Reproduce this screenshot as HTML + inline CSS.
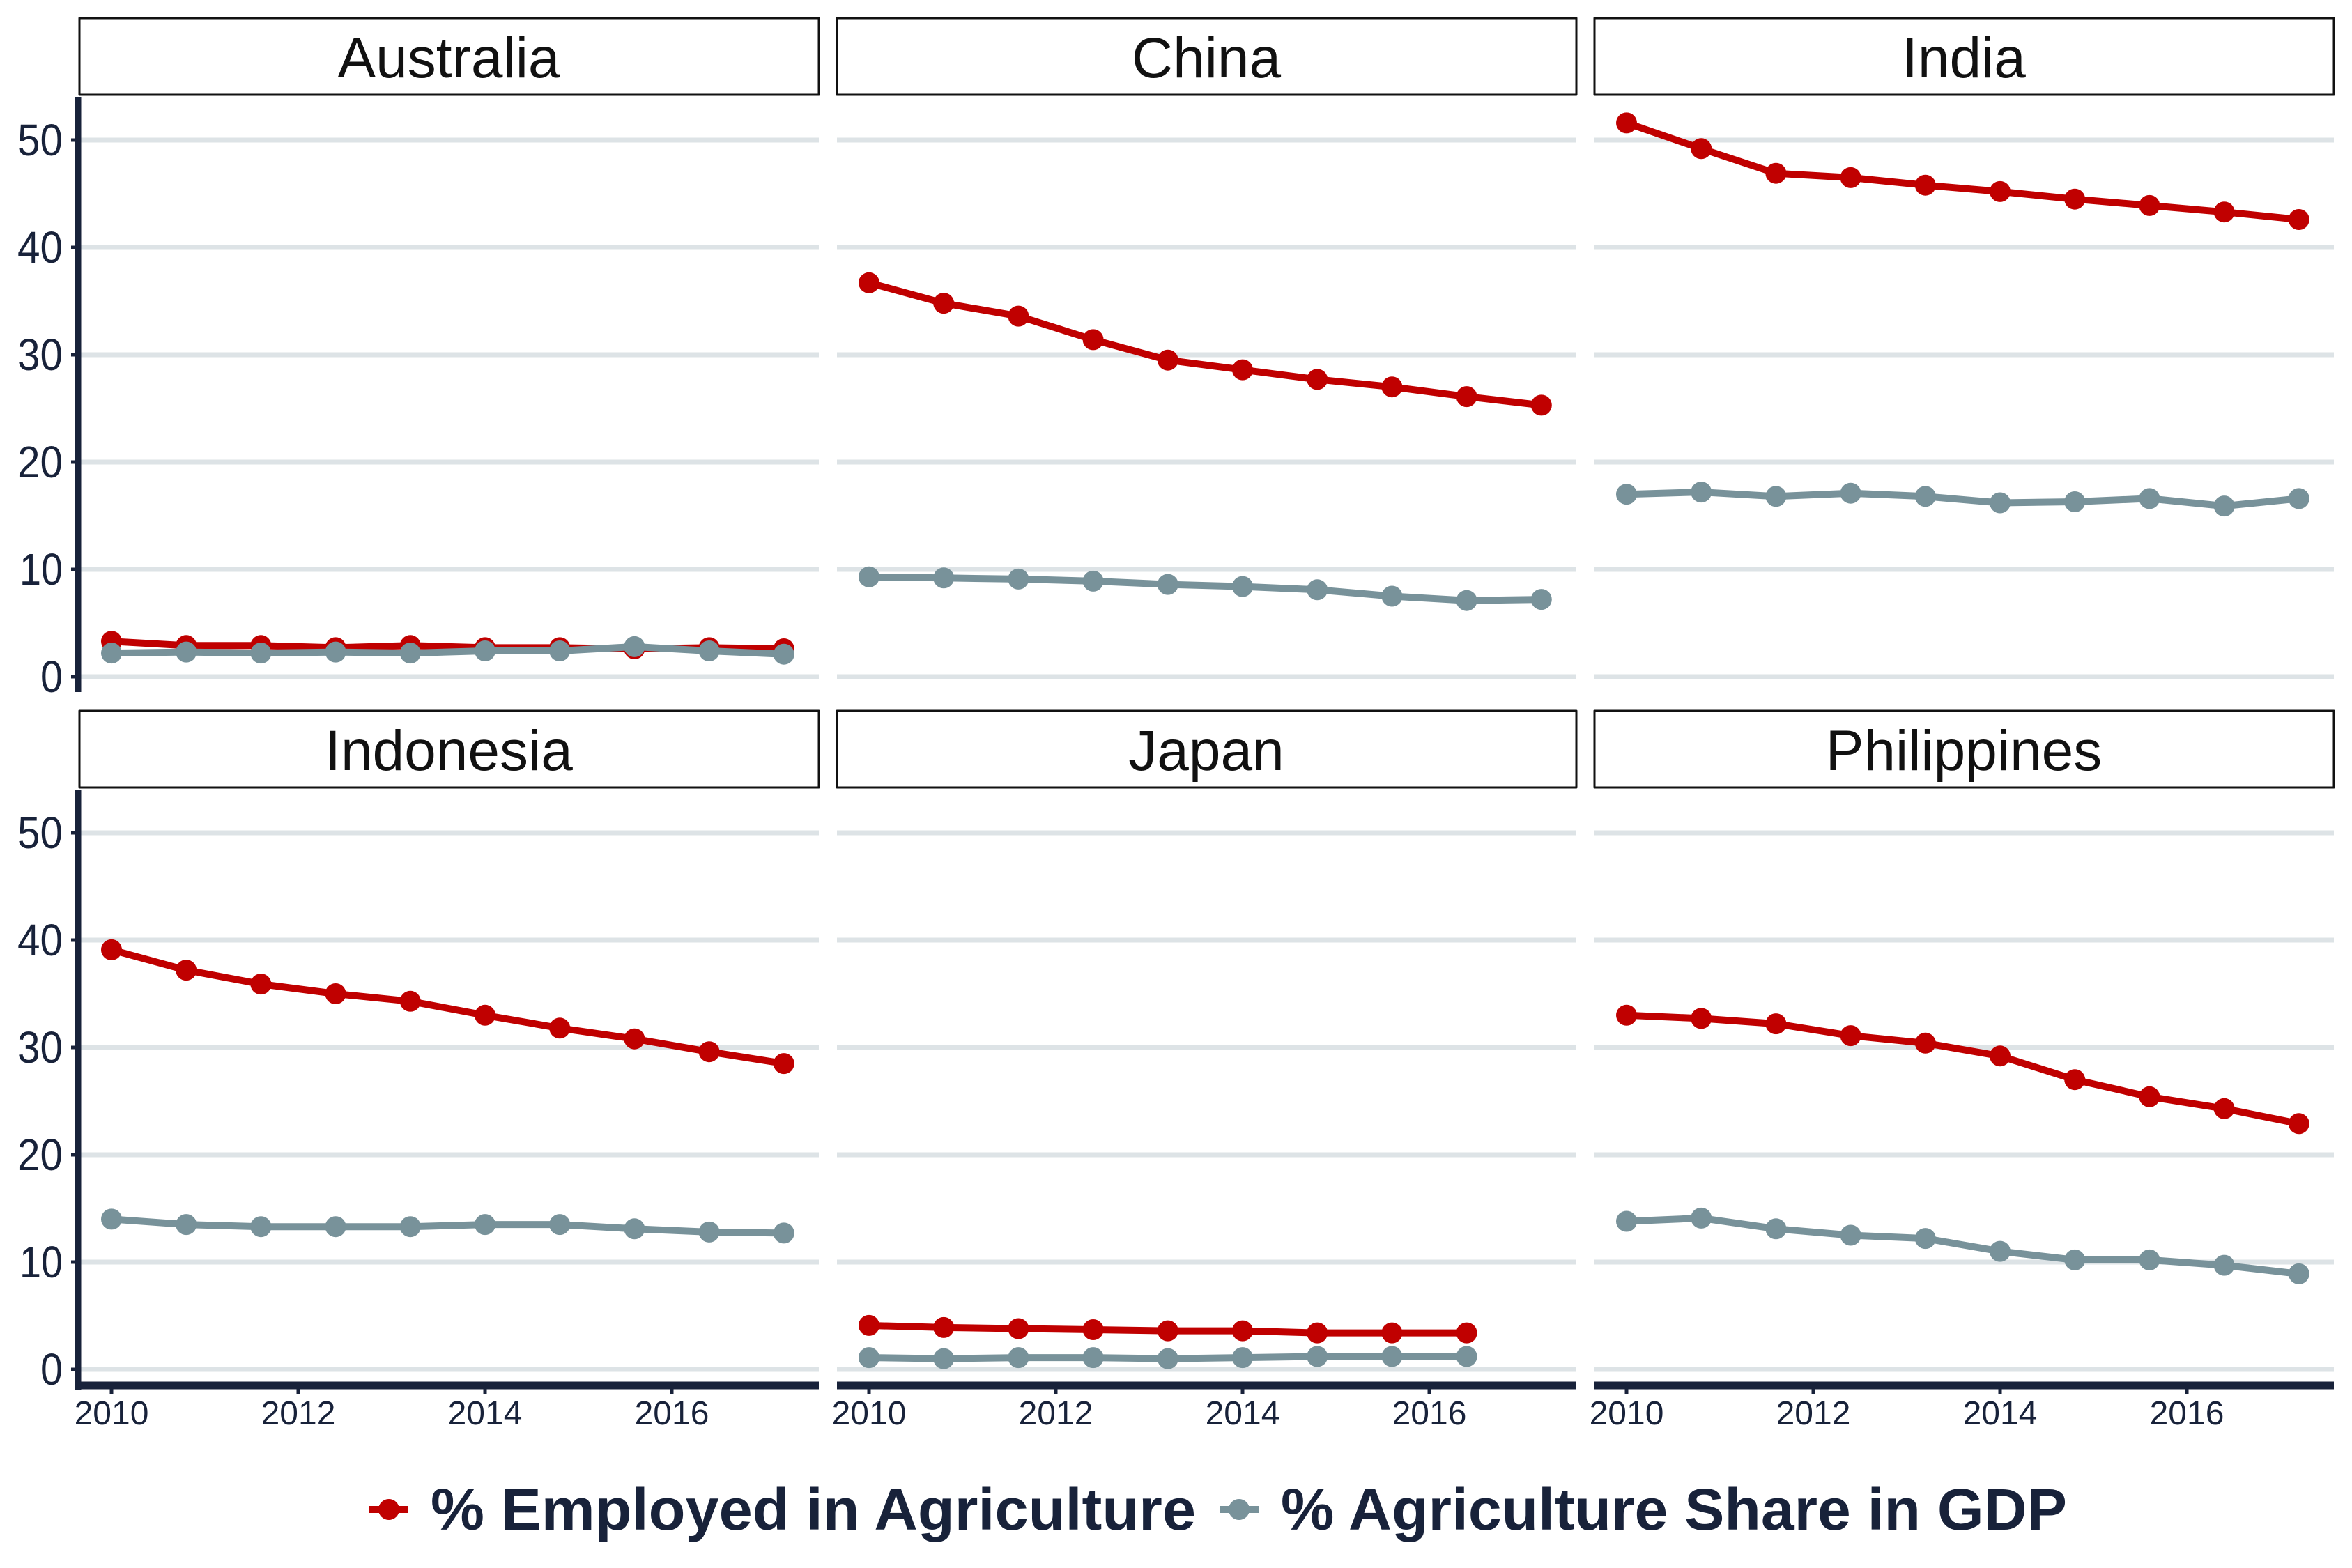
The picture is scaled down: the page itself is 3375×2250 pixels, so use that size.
<!DOCTYPE html>
<html><head><meta charset="utf-8"><style>html,body{margin:0;padding:0;background:#fff}svg{display:block}</style></head>
<body>
<svg xmlns="http://www.w3.org/2000/svg" width="3375" height="2250" viewBox="0 0 3375 2250" font-family="Liberation Sans, sans-serif">
<defs>
<marker id="mr" markerUnits="userSpaceOnUse" markerWidth="34" markerHeight="34" refX="17" refY="17" viewBox="0 0 34 34"><circle cx="17" cy="17" r="15" fill="#c00000"/></marker>
<marker id="mg" markerUnits="userSpaceOnUse" markerWidth="34" markerHeight="34" refX="17" refY="17" viewBox="0 0 34 34"><circle cx="17" cy="17" r="15" fill="#78929a"/></marker>
<g id="grid" stroke="#dde3e6" stroke-width="7">
<line x1="0" x2="1061" y1="0" y2="0"/><line x1="0" x2="1061" y1="-154" y2="-154"/><line x1="0" x2="1061" y1="-308" y2="-308"/><line x1="0" x2="1061" y1="-462" y2="-462"/><line x1="0" x2="1061" y1="-616" y2="-616"/><line x1="0" x2="1061" y1="-770" y2="-770"/>
</g>
<rect id="strip" x="0" y="-945" width="1061" height="110" fill="#fff" stroke="#111" stroke-width="3"/>
<g id="yax" fill="#18223a" font-size="64" text-anchor="end">
<g stroke="#18223a" stroke-width="5"><line x1="-12" x2="0" y1="0" y2="0"/><line x1="-12" x2="0" y1="-154" y2="-154"/><line x1="-12" x2="0" y1="-308" y2="-308"/><line x1="-12" x2="0" y1="-462" y2="-462"/><line x1="-12" x2="0" y1="-616" y2="-616"/><line x1="-12" x2="0" y1="-770" y2="-770"/></g>
</g>
<g id="xax" fill="#18223a" font-size="48" text-anchor="middle">
<line x1="0" x2="1061" y1="23" y2="23" stroke="#18223a" stroke-width="11"/>
<g stroke="#18223a" stroke-width="5"><line x1="46" x2="46" y1="28" y2="35"/><line x1="314" x2="314" y1="28" y2="35"/><line x1="582" x2="582" y1="28" y2="35"/><line x1="850" x2="850" y1="28" y2="35"/></g>
</g>
</defs>

<g fill="none" stroke-width="10" stroke-linejoin="round">
<!-- Australia -->
<g transform="translate(114,971)">
<use href="#grid"/><use href="#strip"/>
<text x="530" y="-860" font-size="82" text-anchor="middle" fill="#111" stroke="none">Australia</text>
<polyline stroke="#c00000" marker-start="url(#mr)" marker-mid="url(#mr)" marker-end="url(#mr)" points="46,-50.8 153.2,-44.7 260.4,-44.7 367.6,-41.6 474.8,-44.7 582,-41.6 689.2,-41.6 796.4,-40 903.6,-41.6 1010.8,-40"/>
<polyline stroke="#78929a" marker-start="url(#mg)" marker-mid="url(#mg)" marker-end="url(#mg)" points="46,-33.9 153.2,-35.4 260.4,-33.9 367.6,-35.4 474.8,-33.9 582,-37 689.2,-37 796.4,-43.1 903.6,-37 1010.8,-32.3"/>
<line x1="-2" x2="-2" y1="-832" y2="22" stroke="#18223a" stroke-width="9"/>
<use href="#yax"/>
<g fill="#18223a" stroke="none" font-size="64" text-anchor="end" dominant-baseline="central">
<text x="-24" y="0" textLength="32" lengthAdjust="spacingAndGlyphs">0</text><text x="-24" y="-154" textLength="62" lengthAdjust="spacingAndGlyphs">10</text><text x="-24" y="-308" textLength="65" lengthAdjust="spacingAndGlyphs">20</text><text x="-24" y="-462" textLength="65" lengthAdjust="spacingAndGlyphs">30</text><text x="-24" y="-616" textLength="65" lengthAdjust="spacingAndGlyphs">40</text><text x="-24" y="-770" textLength="65" lengthAdjust="spacingAndGlyphs">50</text>
</g>
</g>
<!-- China -->
<g transform="translate(1201,971)">
<use href="#grid"/><use href="#strip"/>
<text x="530" y="-860" font-size="82" text-anchor="middle" fill="#111" stroke="none">China</text>
<polyline stroke="#c00000" marker-start="url(#mr)" marker-mid="url(#mr)" marker-end="url(#mr)" points="46,-565.2 153.2,-535.9 260.4,-517.4 367.6,-483.6 474.8,-454.3 582,-440.4 689.2,-426.6 796.4,-415.8 903.6,-401.9 1010.8,-389.6"/>
<polyline stroke="#78929a" marker-start="url(#mg)" marker-mid="url(#mg)" marker-end="url(#mg)" points="46,-143.2 153.2,-141.7 260.4,-140.1 367.6,-137.1 474.8,-132.4 582,-129.4 689.2,-124.7 796.4,-115.5 903.6,-109.3 1010.8,-110.9"/>
</g>
<!-- India -->
<g transform="translate(2288,971)">
<use href="#grid"/><use href="#strip"/>
<text x="530" y="-860" font-size="82" text-anchor="middle" fill="#111" stroke="none">India</text>
<polyline stroke="#c00000" marker-start="url(#mr)" marker-mid="url(#mr)" marker-end="url(#mr)" points="46,-794.6 153.2,-757.7 260.4,-722.3 367.6,-716.1 474.8,-705.3 582,-696.1 689.2,-685.3 796.4,-676.1 903.6,-666.8 1010.8,-656"/>
<polyline stroke="#78929a" marker-start="url(#mg)" marker-mid="url(#mg)" marker-end="url(#mg)" points="46,-261.8 153.2,-264.9 260.4,-258.7 367.6,-263.3 474.8,-258.7 582,-249.5 689.2,-251 796.4,-255.6 903.6,-244.9 1010.8,-255.6"/>
</g>
<!-- Indonesia -->
<g transform="translate(114,1965)">
<use href="#grid"/><use href="#strip"/>
<text x="530" y="-860" font-size="82" text-anchor="middle" fill="#111" stroke="none">Indonesia</text>
<polyline stroke="#c00000" marker-start="url(#mr)" marker-mid="url(#mr)" marker-end="url(#mr)" points="46,-602.1 153.2,-572.9 260.4,-552.9 367.6,-539 474.8,-528.2 582,-508.2 689.2,-489.7 796.4,-474.3 903.6,-455.8 1010.8,-438.9"/>
<polyline stroke="#78929a" marker-start="url(#mg)" marker-mid="url(#mg)" marker-end="url(#mg)" points="46,-215.6 153.2,-207.9 260.4,-204.8 367.6,-204.8 474.8,-204.8 582,-207.9 689.2,-207.9 796.4,-201.7 903.6,-197.1 1010.8,-195.6"/>
<line x1="-2" x2="-2" y1="-832" y2="29" stroke="#18223a" stroke-width="9"/>
<use href="#yax"/><use href="#xax"/>
<g fill="#18223a" stroke="none" font-size="64" text-anchor="end" dominant-baseline="central">
<text x="-24" y="0" textLength="32" lengthAdjust="spacingAndGlyphs">0</text><text x="-24" y="-154" textLength="62" lengthAdjust="spacingAndGlyphs">10</text><text x="-24" y="-308" textLength="65" lengthAdjust="spacingAndGlyphs">20</text><text x="-24" y="-462" textLength="65" lengthAdjust="spacingAndGlyphs">30</text><text x="-24" y="-616" textLength="65" lengthAdjust="spacingAndGlyphs">40</text><text x="-24" y="-770" textLength="65" lengthAdjust="spacingAndGlyphs">50</text>
</g>
<g fill="#18223a" stroke="none" font-size="48" text-anchor="middle"><text x="46" y="79">2010</text><text x="314" y="79">2012</text><text x="582" y="79">2014</text><text x="850" y="79">2016</text></g>
</g>
<!-- Japan -->
<g transform="translate(1201,1965)">
<use href="#grid"/><use href="#strip"/>
<text x="530" y="-860" font-size="82" text-anchor="middle" fill="#111" stroke="none">Japan</text>
<polyline stroke="#c00000" marker-start="url(#mr)" marker-mid="url(#mr)" marker-end="url(#mr)" points="46,-63.1 153.2,-60.1 260.4,-58.5 367.6,-57 474.8,-55.4 582,-55.4 689.2,-52.4 796.4,-52.4 903.6,-52.4"/>
<polyline stroke="#78929a" marker-start="url(#mg)" marker-mid="url(#mg)" marker-end="url(#mg)" points="46,-16.9 153.2,-15.4 260.4,-16.9 367.6,-16.9 474.8,-15.4 582,-16.9 689.2,-18.5 796.4,-18.5 903.6,-18.5"/>
<use href="#xax"/>
<g fill="#18223a" stroke="none" font-size="48" text-anchor="middle"><text x="46" y="79">2010</text><text x="314" y="79">2012</text><text x="582" y="79">2014</text><text x="850" y="79">2016</text></g>
</g>
<!-- Philippines -->
<g transform="translate(2288,1965)">
<use href="#grid"/><use href="#strip"/>
<text x="530" y="-860" font-size="82" text-anchor="middle" fill="#111" stroke="none">Philippines</text>
<polyline stroke="#c00000" marker-start="url(#mr)" marker-mid="url(#mr)" marker-end="url(#mr)" points="46,-508.2 153.2,-503.6 260.4,-495.9 367.6,-478.9 474.8,-468.2 582,-449.7 689.2,-415.8 796.4,-391.2 903.6,-374.2 1010.8,-352.7"/>
<polyline stroke="#78929a" marker-start="url(#mg)" marker-mid="url(#mg)" marker-end="url(#mg)" points="46,-212.5 153.2,-217.1 260.4,-201.7 367.6,-192.5 474.8,-187.9 582,-169.4 689.2,-157.1 796.4,-157.1 903.6,-149.4 1010.8,-137.1"/>
<use href="#xax"/>
<g fill="#18223a" stroke="none" font-size="48" text-anchor="middle"><text x="46" y="79">2010</text><text x="314" y="79">2012</text><text x="582" y="79">2014</text><text x="850" y="79">2016</text></g>
</g>
</g>

<!-- Legend -->
<line x1="530" x2="586" y1="2166" y2="2166" stroke="#c00000" stroke-width="10"/>
<circle cx="558" cy="2166" r="15" fill="#c00000"/>
<text x="618" y="2195" font-size="84" font-weight="bold" fill="#18223a" textLength="1098" lengthAdjust="spacingAndGlyphs">% Employed in Agriculture</text>
<line x1="1750" x2="1806" y1="2166" y2="2166" stroke="#78929a" stroke-width="10"/>
<circle cx="1778" cy="2166" r="15" fill="#78929a"/>
<text x="1838" y="2195" font-size="84" font-weight="bold" fill="#18223a" textLength="1128" lengthAdjust="spacingAndGlyphs">% Agriculture Share in GDP</text>
</svg>
</body></html>
